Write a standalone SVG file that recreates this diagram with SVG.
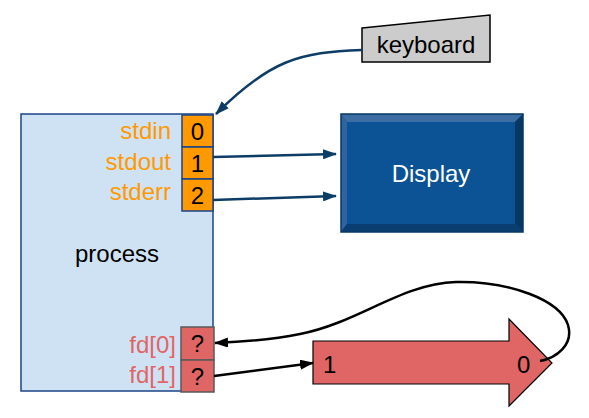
<svg xmlns="http://www.w3.org/2000/svg" width="589" height="418" viewBox="0 0 589 418">
<style>
text{font-family:"Liberation Sans",Arial,sans-serif;font-size:24px}
.blue{fill:none;stroke:#0d3d66;stroke-width:2.5}
.blk{fill:none;stroke:#000;stroke-width:2.5}
.org{fill:#ff9900}
.red{fill:#e06666}
</style>
<defs>
<marker id="ab" markerWidth="14" markerHeight="10" refX="13" refY="5" orient="auto" markerUnits="userSpaceOnUse"><path d="M0,0 L14,5 L0,10 z" fill="#0d3d66"/></marker>
<marker id="ak" markerWidth="14" markerHeight="10" refX="13" refY="5" orient="auto" markerUnits="userSpaceOnUse"><path d="M0,0 L14,5 L0,10 z" fill="#000"/></marker>
</defs>
<g id="process">
<rect x="21" y="114" width="192" height="277" fill="#cfe2f3" stroke="#1c4587" stroke-width="1.5"/>
<text x="117" y="262" text-anchor="middle">process</text>
<text class="org" x="171" y="139" text-anchor="end">stdin</text>
<text class="org" x="171" y="170" text-anchor="end">stdout</text>
<text class="org" x="171" y="200" text-anchor="end">stderr</text>
<text class="red" x="176" y="353" text-anchor="end">fd[0]</text>
<text class="red" x="176" y="383" text-anchor="end">fd[1]</text>
</g>
<g id="fd0-std">
<rect x="182" y="115" width="31" height="32" fill="#ff9900" stroke="#1c4587" stroke-width="1.5"/>
<text x="197.5" y="140" text-anchor="middle">0</text>
</g>
<g id="fd1-std">
<rect x="182" y="147" width="31" height="32" fill="#ff9900" stroke="#1c4587" stroke-width="1.5"/>
<text x="197.5" y="172" text-anchor="middle">1</text>
</g>
<g id="fd2-std">
<rect x="182" y="179" width="31" height="32" fill="#ff9900" stroke="#1c4587" stroke-width="1.5"/>
<text x="197.5" y="204" text-anchor="middle">2</text>
</g>
<g id="pipefd0">
<rect x="181" y="327" width="33" height="33" fill="#e06666" stroke="#595959" stroke-width="1.5"/>
<text x="197.5" y="352" text-anchor="middle">?</text>
</g>
<g id="pipefd1">
<rect x="181" y="360" width="33" height="32" fill="#e06666" stroke="#595959" stroke-width="1.5"/>
<text x="197.5" y="385" text-anchor="middle">?</text>
</g>
<g id="keyboard">
<polygon points="362,28 490,15 490,62 362,62" fill="#cccccc" stroke="#000" stroke-width="1.5"/>
<text x="426" y="53" text-anchor="middle">keyboard</text>
</g>
<g id="display">
<rect x="341" y="114" width="182" height="118" fill="#0b5394"/>
<polygon points="341,114 523,114 515,122 347,122" fill="#3d6ea3"/>
<polygon points="341,114 347,122 347,224 341,232" fill="#2f64a0"/>
<polygon points="523,114 523,232 515,224 515,122" fill="#073763"/>
<polygon points="341,232 523,232 515,224 347,224" fill="#0a3d70"/>
<rect x="341" y="114" width="182" height="118" fill="none" stroke="#073763" stroke-width="1.5"/>
<text x="431" y="182" text-anchor="middle" fill="#ffffff">Display</text>
</g>
<g id="pipe">
<polygon points="313,341 509,341 509,319 552,363 509,406 509,384 313,384" fill="#e06666" stroke="#000" stroke-width="1.2"/>
<text x="323" y="373">1</text>
<text x="517" y="373">0</text>
</g>
<g id="connectors">
<path class="blue" d="M362,50 C300,52 270,60 216,114" marker-end="url(#ab)"/>
<path class="blue" d="M213,157 L336,154" marker-end="url(#ab)"/>
<path class="blue" d="M213,200 L336,196" marker-end="url(#ab)"/>
<path class="blk" d="M214,376 L313,363" marker-end="url(#ak)"/>
<path class="blk" d="M540,361 C556,358 574,345 568,325 C560,300 510,281 456,282 C400,284 360,322 300,334 C270,340 240,342 215,343" marker-end="url(#ak)"/>
</g>
</svg>
